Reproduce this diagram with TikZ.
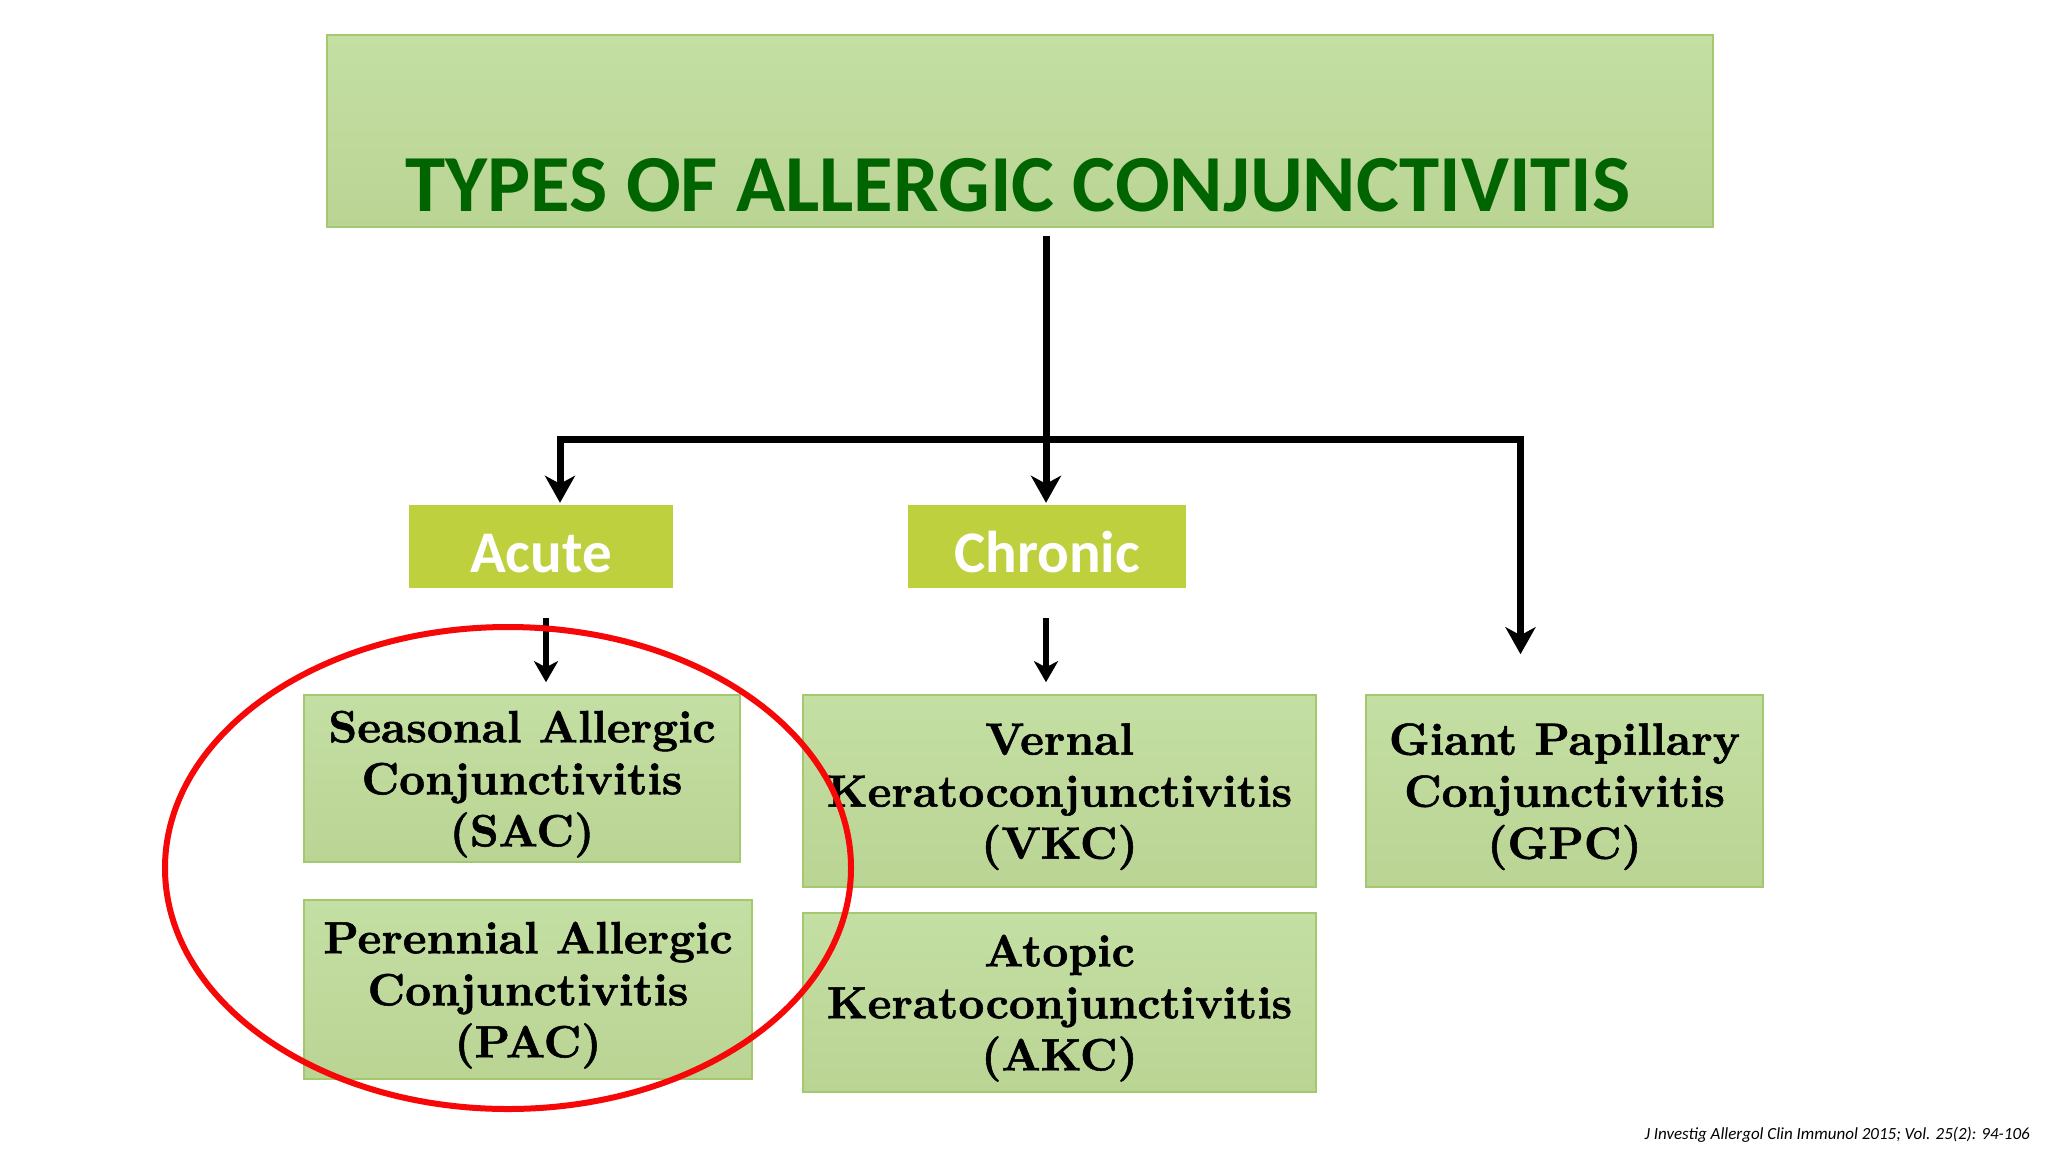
\documentclass[tikz,border=0pt]{standalone}
\usepackage{fontspec}
\newfontfamily\carlito{Carlito}
\newfontface\boxfont{lmroman10-bold.otf}[FakeBold=1.2]
\usetikzlibrary{arrows.meta}
\definecolor{boxfill}{HTML}{C4DFA3}
\definecolor{boxfillb}{HTML}{BAD494}
\definecolor{boxline}{HTML}{A4C86E}
\definecolor{catfill}{HTML}{BFD03E}
\definecolor{titlegreen}{HTML}{006400}
\definecolor{ringred}{HTML}{F70808}
\begin{document}
\begin{tikzpicture}[x=1pt,y=-1pt,
  greenbox/.style={draw=boxline, line width=1.5pt, top color=boxfill, bottom color=boxfillb,
    rectangle, inner sep=0pt, align=center, text=black, text depth=0pt,
    font=\boxfont\fontsize{45.2}{52}\selectfont},
  catbox/.style={fill=catfill, rectangle, inner sep=0pt, text=white,
    text height=51pt, text depth=0pt,
    font=\carlito\bfseries\fontsize{59}{60}\selectfont},
  mainline/.style={line width=7pt, draw=black},
  bigarrow/.style={mainline, -{Stealth[length=27pt,width=30pt,inset=8pt]}},
  smallarrow/.style={line width=6pt, draw=black, -{Stealth[length=21pt,width=24pt,inset=6pt]}},
]
\fill[white] (0,0) rectangle (2048,1152);
\useasboundingbox (0,0) rectangle (2048,1152);

% title
\node[greenbox, minimum width=1386pt, minimum height=192pt] (title) at (1020,131) {};
\node[anchor=base, text=titlegreen, inner sep=0pt,
      font=\carlito\bfseries\fontsize{81}{84}\selectfont] (titletext) at (1018,211)
      {TYPES OF ALLERGIC CONJUNCTIVITIS};

% categories
\node[catbox, minimum width=264pt, minimum height=83pt] (acute) at (541,546.5) {Acute};
\node[catbox, minimum width=278pt, minimum height=83pt] (chronic) at (1047,546.5) {Chronic};

% disease boxes
\node[greenbox, minimum width=436pt, minimum height=167pt] (sac) at (522,778.5)
  {Seasonal Allergic\\Conjunctivitis\\(SAC)};
\node[greenbox, minimum width=448pt, minimum height=179pt] (pac) at (528,989.5)
  {Perennial Allergic\\Conjunctivitis\\(PAC)};
\node[greenbox, minimum width=513pt, minimum height=192pt] (vkc) at (1059.5,791)
  {Vernal\\Keratoconjunctivitis\\(VKC)};
\node[greenbox, minimum width=513pt, minimum height=179pt] (akc) at (1059.5,1002.5)
  {Atopic\\Keratoconjunctivitis\\(AKC)};
\node[greenbox, minimum width=397pt, minimum height=192pt] (gpc) at (1564.5,791)
  {Giant Papillary\\Conjunctivitis\\(GPC)};

% connectors
\coordinate (branch) at (1046,439);
\draw[mainline, shorten <=8pt] (title.south -| branch) -- (branch);
\draw[bigarrow, shorten >=2pt] (branch) -- (branch |- chronic.north);
\draw[bigarrow] (branch) -| ([xshift=19pt,yshift=2pt]acute.north);
\draw[bigarrow] (branch) -| ([xshift=-44pt,yshift=40pt]gpc.north);
\draw[smallarrow] ([xshift=5pt,yshift=-30pt]acute.south) -- ++(0,64);
\draw[smallarrow] ([xshift=-1pt,yshift=-30pt]chronic.south) -- ++(0,64);

% red ring
\draw[ringred, line width=6pt] (508,868) ellipse [x radius=343, y radius=241];

% citation
\node[anchor=base east, inner sep=0pt, font=\carlito\itshape\fontsize{17}{20}\selectfont]
  (cite) at (2030,1139) {J Investig Allergol Clin Immunol 2015; Vol. 25(2): 94-106};
\end{tikzpicture}
\end{document}
